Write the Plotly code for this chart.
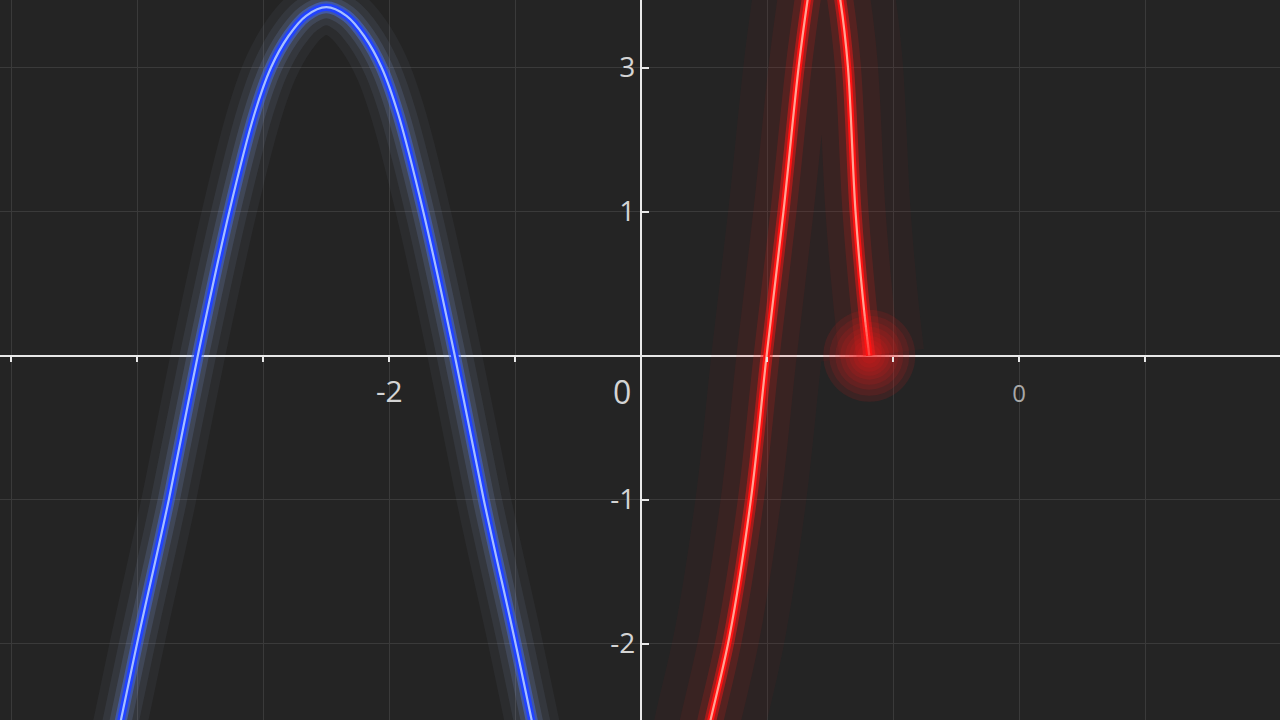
"""Glowing function plot on a dark grid, built with Plotly."""

import plotly.graph_objects as go

# Curve samples (grid units: 1 x-step ~ one tick, 1 y-step ~ one gridline)
BLUE_X = [-4.16, -4.13, -3.99, -3.75, -3.52, -3.27, -3.07, -2.94, -2.80, -2.66, -2.50,
          -2.34, -2.20, -2.06, -1.93, -1.73, -1.48, -1.25, -1.01, -0.87, -0.84]
BLUE_Y = [-2.65, -2.53, -1.95, -1.00, 0.00, 1.00, 1.68, 2.00, 2.22, 2.36, 2.42,
          2.36, 2.22, 2.00, 1.68, 1.00, 0.00, -1.00, -1.95, -2.53, -2.65]

RED_X = [0.52, 0.55, 0.70, 0.87, 0.995, 1.13, 1.25, 1.32, 1.37, 1.45, 1.52, 1.58, 1.64, 1.70, 1.76, 1.81]
RED_Y = [-2.65, -2.53, -1.95, -1.00, 0.00, 1.01, 2.01, 2.47, 2.75, 2.92, 2.75, 2.47, 2.01, 1.01, 0.39, 0.00]

# End point of the red curve (glowing dot)
RED_END_X = [1.81]
RED_END_Y = [0.0]

X_TICKS = [-5, -4, -3, -2, -1, 0, 1, 2, 3, 4]
X_TICK_TEXT = ["", "", "", "-2", "", "", "", "",
               "<span style='font-size:24px;color:#a8a8a8'>0</span>", ""]
Y_TICKS = [2, 1, -1, -2]
Y_TICK_TEXT = ["3", "1", "-1", "-2"]
ORIGIN_LABEL = "0"

X_RANGE = [-5.09, 5.07]
Y_RANGE = [-2.53, 2.47]

COLORS = {
    "background": "#242424",
    "grid": "#3a3a3a",
    "axis": "#e8e8e8",
    "text": "#d4d4d4",
}

# glow layers drawn from the outside in: (width, color)
BLUE_LAYERS = [
    (54, "rgba(170,190,235,0.05)"),
    (36, "rgba(165,190,240,0.08)"),
    (22, "rgba(140,170,250,0.14)"),
    (12, "rgba(70,110,255,0.45)"),
    (7.5, "#2142ff"),
    (2.2, "#a6bfff"),
]
RED_LAYERS = [
    (110, "rgba(190,40,30,0.06)"),
    (60, "rgba(220,40,30,0.08)"),
    (26, "rgba(255,35,30,0.15)"),
    (12, "rgba(255,25,25,0.45)"),
    (6.5, "#ff1212"),
    (2.2, "#ffa494"),
]
# soft blob at the end of the red curve: (marker size, color)
DOT_LAYERS = [(s, "rgba(255,30,30,0.11)") for s in (92, 80, 68, 58, 48, 40, 32, 24, 16)]


def add_glow_line(fig, xs, ys, layers):
    for width, color in layers:
        fig.add_trace(
            go.Scatter(
                x=xs,
                y=ys,
                mode="lines",
                line=dict(color=color, width=width, shape="spline", smoothing=1.0),
                hoverinfo="skip",
                showlegend=False,
            )
        )


fig = go.Figure()

add_glow_line(fig, BLUE_X, BLUE_Y, BLUE_LAYERS)
add_glow_line(fig, RED_X, RED_Y, RED_LAYERS)

for size, color in DOT_LAYERS:
    fig.add_trace(
        go.Scatter(
            x=RED_END_X,
            y=RED_END_Y,
            mode="markers",
            marker=dict(size=size, color=color, line=dict(width=0)),
            hoverinfo="skip",
            showlegend=False,
        )
    )

# axis positions in paper coords so tick labels sit on the zero lines
x_axis_pos = (0 - Y_RANGE[0]) / (Y_RANGE[1] - Y_RANGE[0])
y_axis_pos = (0 - X_RANGE[0]) / (X_RANGE[1] - X_RANGE[0])

fig.update_layout(
    width=1280,
    height=720,
    margin=dict(l=0, r=0, t=0, b=0),
    plot_bgcolor=COLORS["background"],
    paper_bgcolor=COLORS["background"],
    font=dict(family="Open Sans", color=COLORS["text"], size=28),
    showlegend=False,
)

fig.update_xaxes(
    range=X_RANGE,
    tickvals=X_TICKS,
    ticktext=X_TICK_TEXT,
    anchor="free",
    position=x_axis_pos,
    showline=False,
    ticks="outside",
    ticklen=5,
    tickwidth=2,
    tickcolor=COLORS["axis"],
    ticklabelstandoff=4,
    tickfont=dict(size=30),
    showgrid=True,
    gridcolor=COLORS["grid"],
    gridwidth=1,
    zeroline=True,
    zerolinecolor=COLORS["axis"],
    zerolinewidth=2,
)
fig.update_yaxes(
    range=Y_RANGE,
    tickvals=Y_TICKS,
    ticktext=Y_TICK_TEXT,
    anchor="free",
    position=y_axis_pos,
    showline=False,
    ticks="inside",
    ticklen=7,
    tickwidth=2,
    tickcolor=COLORS["axis"],
    ticklabelstandoff=6,
    showgrid=True,
    gridcolor=COLORS["grid"],
    gridwidth=1,
    zeroline=True,
    zerolinecolor=COLORS["axis"],
    zerolinewidth=2,
)

# shared origin label, below-left of the crossing
fig.add_annotation(
    x=0, y=0, text=ORIGIN_LABEL, showarrow=False,
    xanchor="right", yanchor="top", xshift=-8, yshift=-12,
    font=dict(size=32, color=COLORS["text"]),
)

fig.write_html(
    "out.html",
    config={"displayModeBar": False},
    post_script="document.body.style.margin='0';",
)
